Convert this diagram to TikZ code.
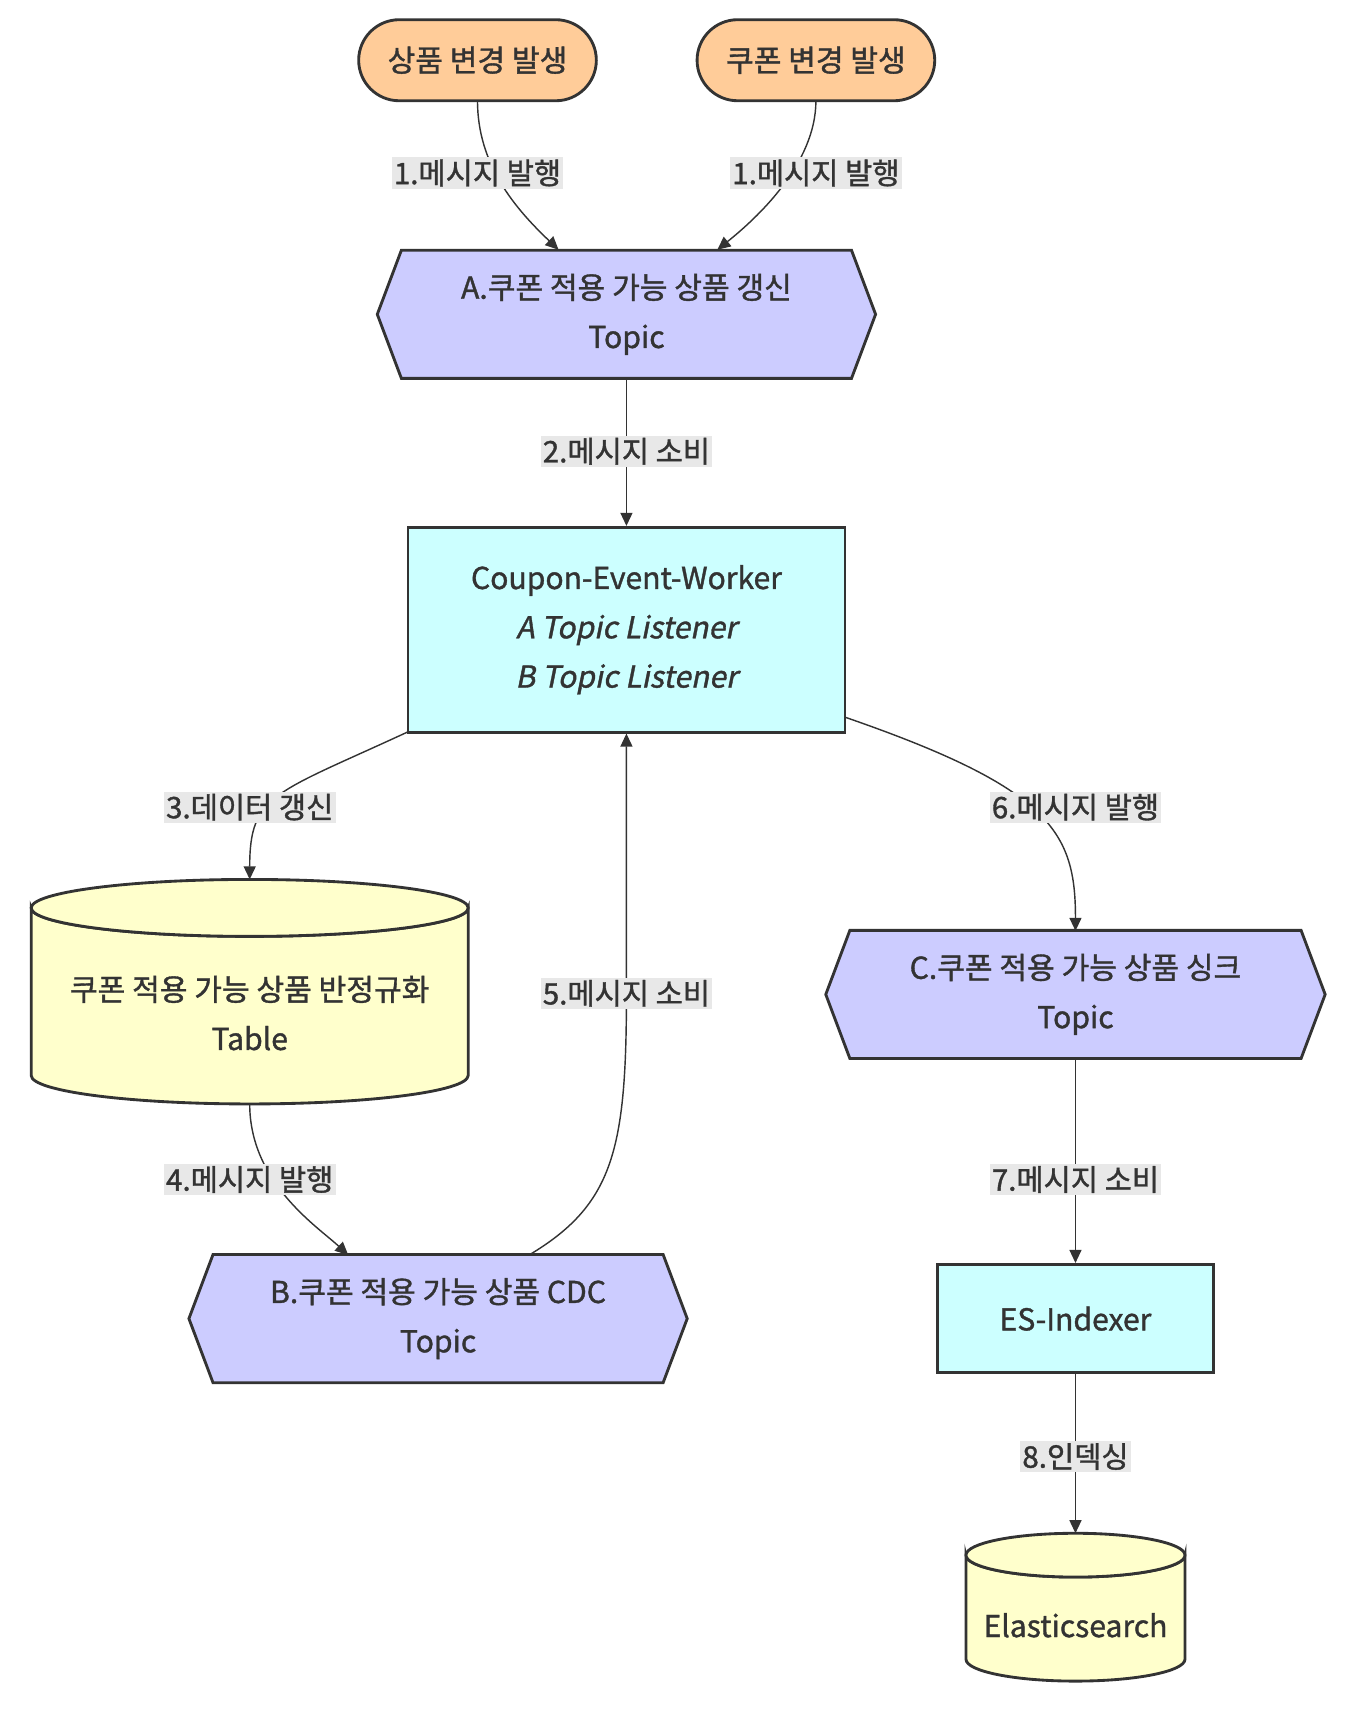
\documentclass[tikz,border=0pt]{standalone}
\usepackage{fontspec}
\setmainfont{Noto Sans CJK KR}[FakeBold=1.2, ItalicFont=Noto Sans CJK KR, ItalicFeatures={FakeSlant=0.2, FakeBold=1.2}]
\usetikzlibrary{shapes.misc,arrows.meta}
\definecolor{ln}{HTML}{333333}
\definecolor{orangef}{HTML}{FFCC99}
\definecolor{purf}{HTML}{CCCCFF}
\definecolor{cyanf}{HTML}{CCFFFF}
\definecolor{yelf}{HTML}{FFFFCC}
\definecolor{lblf}{HTML}{E8E8E8}
\begin{document}
\begin{tikzpicture}[x=1pt,y=-1pt,
  every node/.style={font=\fontsize{27.5}{45}\selectfont, text=ln, align=center},
  bd/.style={draw=ln, line width=2.6pt},
  stad/.style={bd, rounded rectangle, fill=orangef, minimum width=217pt, minimum height=74pt, inner sep=0pt},
  box/.style={bd, rectangle, fill=cyanf},
  lbl/.style={fill=lblf, inner sep=2pt, font=\fontsize{27}{30}\selectfont},
  ed/.style={draw=ln, line width=1.3pt, -{Triangle[length=12pt,width=11pt]}}]
\useasboundingbox (0,0) rectangle (1240,1576);
\newcommand{\hexa}[6]{%
  \fill[purf] (#2-#4/2,#3) -- (#2-#4/2+22,#3-#5/2) -- (#2+#4/2-22,#3-#5/2) -- (#2+#4/2,#3) -- (#2+#4/2-22,#3+#5/2) -- (#2-#4/2+22,#3+#5/2) -- cycle;
  \draw[bd, line join=miter] (#2-#4/2,#3) -- (#2-#4/2+22,#3-#5/2) -- (#2+#4/2-22,#3-#5/2) -- (#2+#4/2,#3) -- (#2+#4/2-22,#3+#5/2) -- (#2-#4/2+22,#3+#5/2) -- cycle;
  \node[minimum width=#4 pt, minimum height=#5 pt, inner sep=0pt] (#1) at (#2,#3) {#6};}
\newcommand{\cylin}[8]{%
  \draw[bd, fill=yelf] (#2-#4/2,#3+#6) arc[start angle=180, end angle=360, x radius=#4/2, y radius=-#6] -- (#2+#4/2,#3+#5-#6) arc[start angle=0, end angle=-180, x radius=#4/2, y radius=-#6] -- cycle;
  \draw[bd, fill=yelf] (#2,#3+#6) ellipse[x radius=#4/2, y radius=#6];
  \coordinate (#1-top) at (#2,#3);
  \coordinate (#1-bot) at (#2,#3+#5);
  \node (#1) at (#2,#8) {#7};}
\node[stad] (s1) at (436,55) {상품 변경 발생};
\node[stad] (s2) at (745,55) {쿠폰 변경 발생};
\hexa{A}{572}{287}{455}{117}{A.쿠폰 적용 가능 상품 갱신\\Topic}
\node[box, minimum width=399pt, minimum height=187pt] (W) at (572,575) {Coupon-Event-Worker\\\textit{A Topic Listener}\\\textit{B Topic Listener}};
\cylin{T}{228}{803}{399}{205}{26}{쿠폰 적용 가능 상품 반정규화\\Table}{925}
\hexa{B}{400}{1204}{455}{117}{B.쿠폰 적용 가능 상품 CDC\\Topic}
\hexa{C}{982}{908}{456}{117}{C.쿠폰 적용 가능 상품 싱크\\Topic}
\node[box, minimum width=252pt, minimum height=99pt] (E) at (982,1204) {ES-Indexer};
\cylin{ES}{982}{1400}{200}{135}{20}{Elasticsearch}{1484}
\coordinate (a1) at (510,228);
\coordinate (a2) at (655,228);
\coordinate (w3) at (373,668);
\coordinate (b4) at (318,1146);
\coordinate (b5) at (483,1146);
\coordinate (w6) at (772,655);
\coordinate (c6) at (982,850);
\draw[ed] (436,92) .. controls (436,150) and (470,190) .. (a1);
\draw[ed] (745,92) .. controls (745,150) and (690,200) .. (a2);
\draw[ed] (A.south) -- (W.north);
\draw[ed] (w3) .. controls (250,725) and (228,725) .. (T-top);
\draw[ed] (T-bot) .. controls (228,1080) and (290,1120) .. (b4);
\draw[ed] (b5) .. controls (560,1100) and (572,1050) .. (572,907) -- (W.south);
\draw[ed] (w6) .. controls (960,720) and (982,760) .. (c6);
\draw[ed] (C.south) -- (E.north);
\draw[ed] (E.south) -- (ES-top);
\node[lbl] (l1a) at (436,158) {1.메시지 발행};
\node[lbl] (l1b) at (745,158) {1.메시지 발행};
\node[lbl] (l2) at (572,412) {2.메시지 소비};
\node[lbl] (l3) at (228,737) {3.데이터 갱신};
\node[lbl] (l4) at (228,1077) {4.메시지 발행};
\node[lbl] (l5) at (572,907) {5.메시지 소비};
\node[lbl] (l6) at (982,737) {6.메시지 발행};
\node[lbl] (l7) at (982,1077) {7.메시지 소비};
\node[lbl] (l8) at (982,1330) {8.인덱싱};
\end{tikzpicture}
\end{document}
